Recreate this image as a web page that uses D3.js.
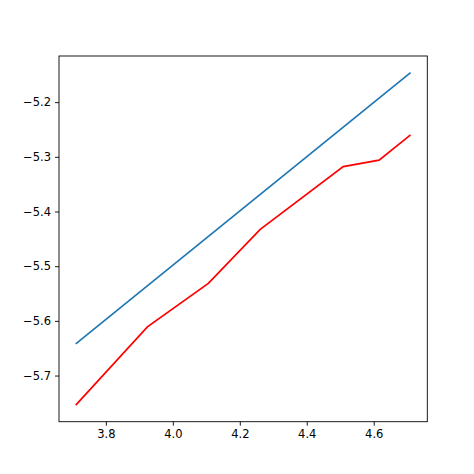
<!DOCTYPE html>
<html><head><meta charset="utf-8">
<script src="https://cdn.jsdelivr.net/npm/d3@7"></script>
<style>body{margin:0;background:#fff}svg{display:block}</style>
</head><body>
<script>
const fitX = [3.71, 4.71];
const fitY = [-5.642, -5.146];
const dataX = [3.71, 3.924, 4.106, 4.261, 4.509, 4.616, 4.71];
const dataY = [-5.754, -5.611, -5.5315, -5.4326, -5.318, -5.306, -5.260];
const xTicks = [3.8, 4.0, 4.2, 4.4, 4.6];
const yTicks = [-5.7, -5.6, -5.5, -5.4, -5.3, -5.2];

const W = 474, H = 474;
const L = 59, R = 427.3, T = 56, B = 421.7;
const svg = d3.select("body").append("svg").attr("width", W).attr("height", H);

const allX = fitX.concat(dataX), allY = fitY.concat(dataY);
const xmin = d3.min(allX), xmax = d3.max(allX), ymin = d3.min(allY), ymax = d3.max(allY);
const mx = (xmax - xmin) * 0.05, my = (ymax - ymin) * 0.05;
const x = d3.scaleLinear().domain([xmin - mx, xmax + mx]).range([L, R]);
const y = d3.scaleLinear().domain([ymin - my, ymax + my]).range([B, T]);

const fmt = v => d3.format(".1f")(v).replace("-", "\u2212");
const font = "'DejaVu Sans', sans-serif";

const xa = svg.append("g").attr("transform", `translate(0,${B})`)
  .call(d3.axisBottom(x).tickValues(xTicks).tickFormat(fmt).tickSizeOuter(0).tickSize(4).tickPadding(4));
const ya = svg.append("g").attr("transform", `translate(${L},0)`)
  .call(d3.axisLeft(y).tickValues(yTicks).tickFormat(fmt).tickSizeOuter(0).tickSize(4).tickPadding(4));
[xa, ya].forEach(a => {
  a.select(".domain").remove();
  a.selectAll("text").attr("font-family", font).attr("font-size", 11.5).attr("fill", "#000");
  a.selectAll("line").attr("stroke", "#000").attr("stroke-width", 0.9);
});

const line = d3.line().x(d => x(d[0])).y(d => y(d[1]));
svg.append("path").datum(fitX.map((v, i) => [v, fitY[i]]))
  .attr("d", line).attr("fill", "none").attr("stroke", "#1f77b4").attr("stroke-width", 1.7);
svg.append("path").datum(dataX.map((v, i) => [v, dataY[i]]))
  .attr("d", line).attr("fill", "none").attr("stroke", "red").attr("stroke-width", 1.7);

svg.append("rect").attr("x", L).attr("y", T).attr("width", R - L).attr("height", B - T)
  .attr("fill", "none").attr("stroke", "#000").attr("stroke-width", 0.9);
</script>
</body></html>
